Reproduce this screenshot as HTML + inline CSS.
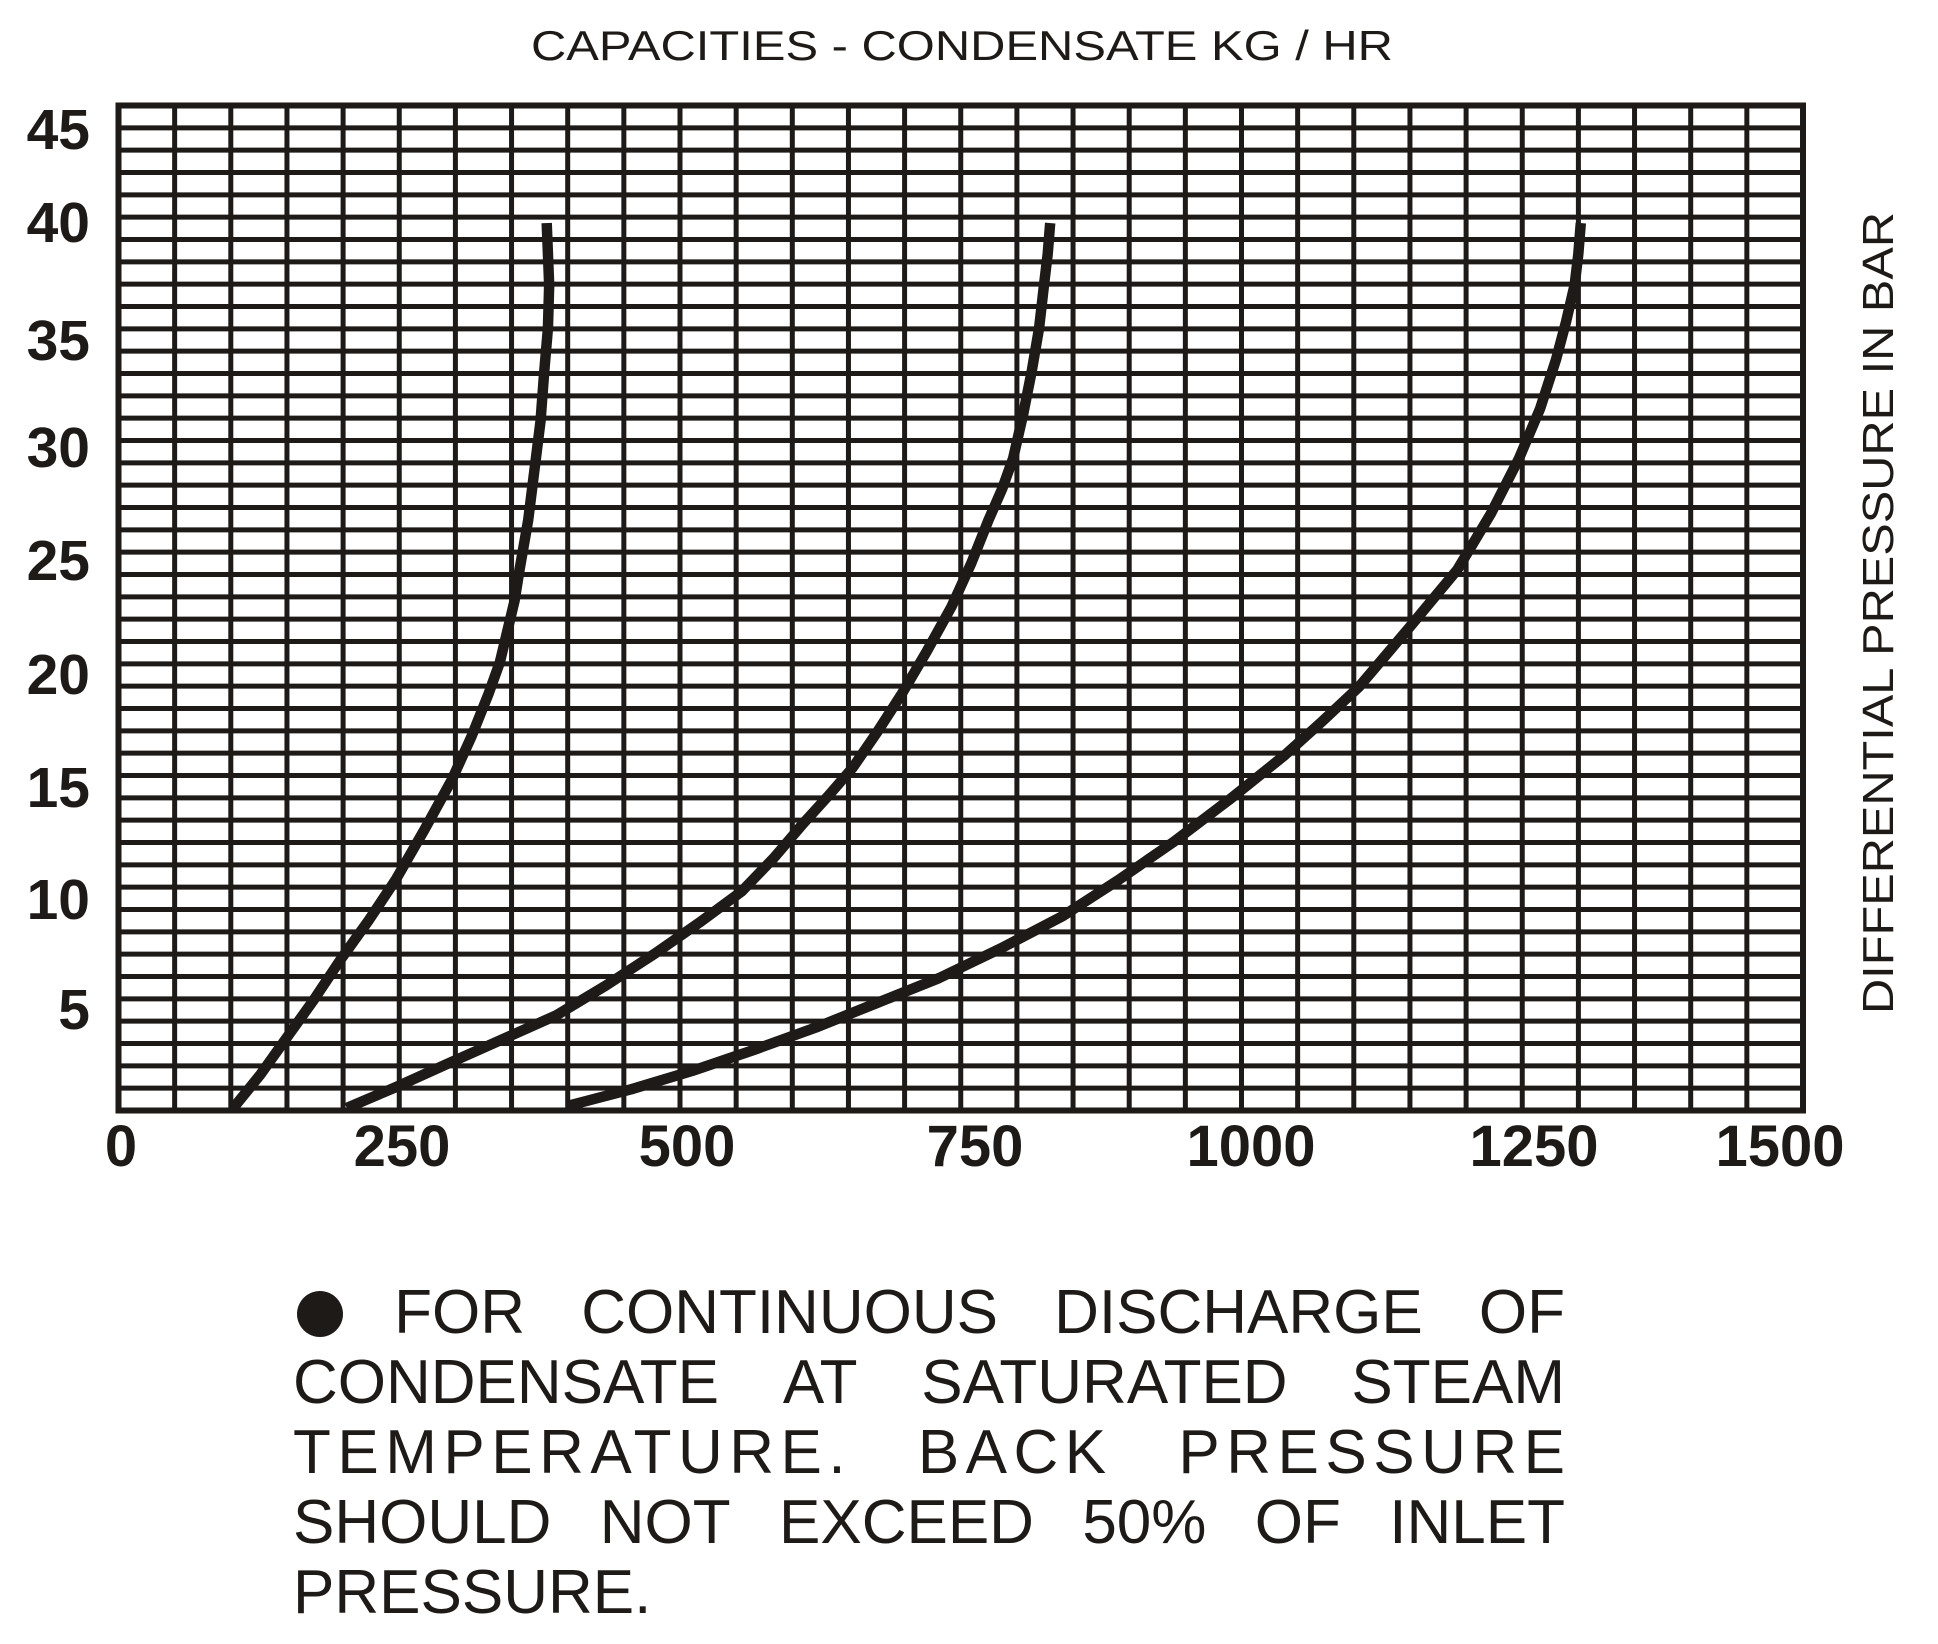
<!DOCTYPE html>
<html><head><meta charset="utf-8"><style>
html,body{margin:0;padding:0;background:#fff;}
body{width:1938px;height:1644px;position:relative;overflow:hidden;font-family:"Liberation Sans",sans-serif;color:#1e1a17;}
.note{position:absolute;left:293px;width:1272px;font-size:62px;line-height:70px;}
.ln{display:flex;justify-content:space-between;height:70px;white-space:nowrap;}
</style></head><body>
<svg width="1938" height="1644" style="position:absolute;left:0;top:0">
<g id="grid" stroke="#1e1a17" stroke-width="5"></g>
<rect x="118.5" y="105.5" width="1684.5" height="1005" fill="none" stroke="#1e1a17" stroke-width="6"/>
<g transform="matrix(1.234,0,0,1.2377,1.27,0.28)" fill="none" stroke="#1e1a17" stroke-width="8.5" stroke-linejoin="round" stroke-linecap="butt">
<polyline points="188,895 210,868 230,840 253,808 275,775 298,743 320,710 343,670 365,630 381,595 395,560 404,535 410,510 416,485 420,460 427,420 432,380 437,340 440,300 443,265 444,230 443,205 442,180"/>
<polyline points="280,895 320,878 360,860 405,840 450,820 490,796 530,770 566,745 600,720 626,693 650,665 670,643 690,620 710,591 730,560 750,526 770,490 786,455 800,420 811,395 820,370 828,335 835,300 841,265 845,230 848,205 850,180"/>
<polyline points="460,893 510,880 560,865 610,848 660,830 710,810 760,790 810,766 860,740 905,711 950,680 995,646 1040,610 1070,583 1100,555 1140,508 1180,460 1207,415 1230,370 1247,330 1260,290 1268,260 1275,230 1278,205 1280,180"/>
</g>
<g font-family="Liberation Sans, sans-serif" font-weight="bold" font-size="57" fill="#1e1a17" text-anchor="end">
<text x="90" y="149">45</text>
<text x="90" y="242">40</text>
<text x="90" y="360">35</text>
<text x="90" y="467">30</text>
<text x="90" y="580">25</text>
<text x="90" y="694">20</text>
<text x="90" y="807">15</text>
<text x="90" y="919">10</text>
<text x="90" y="1029">5</text>
</g>
<g font-family="Liberation Sans, sans-serif" font-weight="bold" font-size="58" fill="#1e1a17" text-anchor="middle">
<text x="121" y="1166">0</text>
<text x="402" y="1166">250</text>
<text x="687" y="1166">500</text>
<text x="975" y="1166">750</text>
<text x="1251" y="1166">1000</text>
<text x="1534" y="1166">1250</text>
<text x="1780" y="1166">1500</text>
</g>
<text x="962" y="60" font-size="42" text-anchor="middle" fill="#1e1a17" font-family="Liberation Sans, sans-serif" textLength="862" lengthAdjust="spacingAndGlyphs">CAPACITIES - CONDENSATE KG / HR</text>
<text transform="translate(1893,613) rotate(-90)" font-size="44" text-anchor="middle" fill="#1e1a17" font-family="Liberation Sans, sans-serif" textLength="802" lengthAdjust="spacingAndGlyphs">DIFFERENTIAL PRESSURE IN BAR</text>
<circle cx="320" cy="1314" r="23" fill="#1e1a17"/>
</svg>
<div class="note" style="top:1278px">
<div class="ln"><span style="width:45px"></span><span>FOR</span><span>CONTINUOUS</span><span>DISCHARGE</span><span>OF</span></div>
<div class="ln"><span>CONDENSATE</span><span>AT</span><span>SATURATED</span><span>STEAM</span></div>
<div class="ln" style="letter-spacing:6.5px"><span>TEMPERATURE.</span><span>BACK</span><span style="margin-right:-6.5px">PRESSURE</span></div>
<div class="ln"><span>SHOULD</span><span>NOT</span><span>EXCEED</span><span>50%</span><span>OF</span><span>INLET</span></div>
<div class="ln"><span>PRESSURE.</span></div>
</div>
<script>
var g=document.getElementById('grid'),ns='http://www.w3.org/2000/svg';
for(var i=1;i<30;i++){var x=118.5+i*1684.5/30;var l=document.createElementNS(ns,'line');l.setAttribute('x1',x);l.setAttribute('x2',x);l.setAttribute('y1',105.5);l.setAttribute('y2',1110.5);g.appendChild(l);}
for(var j=1;j<45;j++){var y=105.5+j*1005/45;var l=document.createElementNS(ns,'line');l.setAttribute('y1',y);l.setAttribute('y2',y);l.setAttribute('x1',118.5);l.setAttribute('x2',1803);g.appendChild(l);}
</script>
</body></html>
